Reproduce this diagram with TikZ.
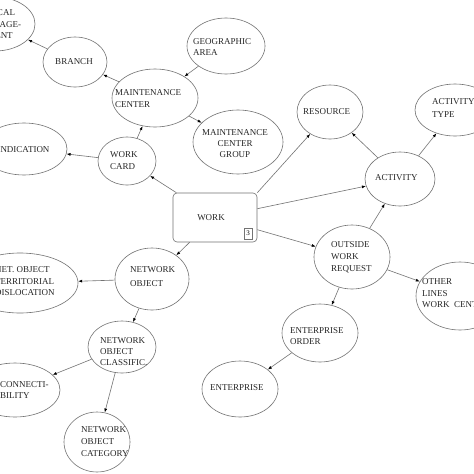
\documentclass[tikz,border=0pt]{standalone}
\usepackage{fontspec}
\setmainfont{Liberation Serif}
\usetikzlibrary{shapes.geometric,arrows.meta}
\begin{document}
\begin{tikzpicture}[x=1pt,y=-1pt,
  el/.style 2 args={ellipse,draw=black!55,line width=0.6pt,inner sep=0pt,minimum width=#1,minimum height=#2},
  lbl/.style={font=\fontsize{9}{11.5}\selectfont,text=black!85,inner sep=0pt,align=left,anchor=west},
  lblc/.style={font=\fontsize{9}{11.5}\selectfont,text=black!85,inner sep=0pt,align=center},
  arr/.style={draw=black!55,line width=0.6pt,-{Latex[length=4pt,width=3pt,color=black]}}]
\useasboundingbox (0,0) rectangle (474,474);
\clip (0,0) rectangle (474,474);
\fill[white] (0,0) rectangle (474,474);

% ellipses
\node[el={80pt}{54pt}] (tl) at (-5,24) {};
\node[el={64pt}{50pt}] (branch) at (75,62) {};
\node[el={86pt}{58pt}] (mc) at (155,98) {};
\node[el={78pt}{56pt}] (geo) at (226,46) {};
\node[el={90pt}{64pt}] (mcg) at (238,142) {};
\node[el={58pt}{48pt}] (wc) at (127,161) {};
\node[el={86pt}{52pt}] (ind) at (24,149) {};
\node[el={66pt}{54pt}] (res) at (330,112) {};
\node[el={80pt}{52pt}] (acttype) at (455,110) {};
\node[el={70pt}{54pt}] (act) at (400,179) {};
\node[el={76pt}{64pt}] (owr) at (352,257) {};
\node[el={88pt}{68pt}] (ol) at (460,296) {};
\node[el={76pt}{58pt}] (eo) at (320,333) {};
\node[el={76pt}{56pt}] (ent) at (240,389) {};
\node[el={74pt}{62pt}] (no) at (152,279) {};
\node[el={116pt}{60pt}] (nodtl) at (20,283) {};
\node[el={68pt}{52pt}] (noc) at (122,347) {};
\node[el={90pt}{54pt}] (conn) at (15,390) {};
\node[el={66pt}{60pt}] (noccat) at (97,442) {};

% central rectangle
\node[draw=black!55,line width=0.6pt,rounded corners=4pt,minimum width=84pt,minimum height=49pt,inner sep=0pt] (work) at (215,217.5) {};
\node[lblc] (workt) at (211,218) {WORK};
\node[draw=black!55,line width=0.5pt,minimum width=8pt,minimum height=11pt,inner sep=0pt,font=\fontsize{7}{8}\selectfont] (three) at (248,233.5) {3};

% labels
\node[lblc] (tlt) at (0,24.5) {LOCAL\\MANAGE-\\MENT};
\node[lblc] (brancht) at (74,62) {BRANCH};
\node[lbl] (mct) at (115,98.5) {MAINTENANCE\\CENTER};
\node[lbl,font=\fontsize{9}{10.5}\selectfont] (geot) at (193,47) {GEOGRAPHIC\\AREA};
\node[lblc,font=\fontsize{9}{11}\selectfont] (mcgt) at (235,144) {MAINTENANCE\\CENTER\\GROUP};
\node[lbl,font=\fontsize{9}{12}\selectfont] (wct) at (110,161) {WORK\\CARD};
\node[lblc] (indt) at (23.5,150) {INDICATION};
\node[lbl] (rest) at (303,112) {RESOURCE};
\node[lbl,font=\fontsize{9}{13}\selectfont] (acttypet) at (432,108.5) {ACTIVITY\\TYPE};
\node[lbl] (actt) at (375,178) {ACTIVITY};
\node[lbl,font=\fontsize{9}{12}\selectfont] (owrt) at (331,257) {OUTSIDE\\WORK\\REQUEST};
\node[lbl] (olt) at (422,293.5) {OTHER\\LINES\\WORK\ \ CENTER};
\node[lbl,font=\fontsize{9}{11}\selectfont] (eot) at (290,336.5) {ENTERPRISE\\ORDER};
\node[lbl] (entt) at (210,388) {ENTERPRISE};
\node[lbl,font=\fontsize{9}{14}\selectfont] (not) at (130,277) {NETWORK\\OBJECT};
\node[lbl] (nodtlt) at (-5,281.5) {NET. OBJECT\\TERRITORIAL\\DISLOCATION};
\node[lbl,font=\fontsize{9}{11}\selectfont] (noct) at (100,352) {NETWORK\\OBJECT\\CLASSIFIC.};
\node[lbl,font=\fontsize{9}{11}\selectfont] (connt) at (0,390.5) {CONNECTI-\\BILITY};
\node[lbl,font=\fontsize{9}{12}\selectfont] (noccatt) at (81,442) {NETWORK\\OBJECT\\CATEGORY};

% connectors
\draw[arr] (branch) -- (tl);
\draw[arr] (mc) -- (branch);
\draw[arr] (geo) -- (mc);
\draw[arr] (mc) -- (mcg);
\draw[arr] (wc) -- (mc);
\draw[arr] (wc) -- (ind);
\draw[arr] (work) -- (wc);
\draw[arr] (work.north east) -- (res);
\draw[arr] (act) -- (res);
\draw[arr] (act) -- (acttype);
\draw[arr] (work) -- (act);
\draw[arr] (work) -- (owr);
\draw[arr] (owr) -- (act);
\draw[arr] (owr) -- (ol);
\draw[arr] (owr) -- (eo);
\draw[arr] (eo) -- (ent);
\draw[arr] (work) -- (no);
\draw[arr] (no) -- (nodtl);
\draw[arr] (no) -- (noc);
\draw[arr] (noc) -- (conn);
\draw[arr] (noc) -- (noccat);
\end{tikzpicture}
\end{document}
